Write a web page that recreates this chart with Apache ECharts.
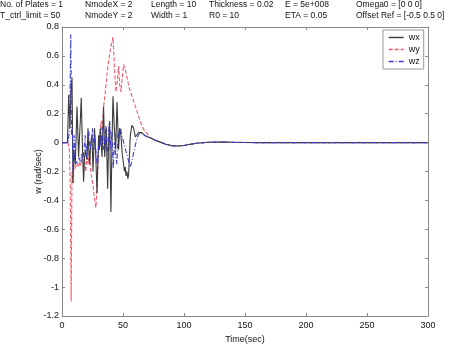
<!DOCTYPE html>
<html>
<head>
<meta charset="utf-8">
<script src="https://cdn.jsdelivr.net/npm/echarts@6/dist/echarts.min.js"></script>
<style>html,body{margin:0;padding:0;background:#fff}#c{width:474px;height:356px}</style>
</head>
<body>
<div id="c"></div>
<script>
// ---- data ----
var xTicks = [0, 50, 100, 150, 200, 250, 300];
var yTicks = [-1.2, -1, -0.8, -0.6, -0.4, -0.2, 0, 0.2, 0.4, 0.6, 0.8];
var seriesNames = ['wx', 'wy', 'wz'];

var tailT = [72, 76, 80, 85, 90, 95, 100, 105, 110, 120, 130, 140, 160, 200, 250, 300];
var tailV = [0.035, 0.018, 0.005, -0.012, -0.021, -0.024, -0.02, -0.012, -0.005, 0.002, 0.004, 0.002, 0, 0, 0, 0];

var wxT = [0, 4.5, 5.5, 6.5, 7.3, 8.2, 9.0, 9.8, 10.9, 11.6, 12.3, 13.6, 14.4, 15.0, 15.8, 16.8, 17.7, 18.5, 19.1, 20.5,
           21.3, 21.8, 22.7, 23.6, 24.6, 25.4, 26.7, 27.7, 28.7, 30.0, 30.7, 31.4, 32.8, 34.1, 35.0, 36.3, 37.4, 38.2, 39.0, 40.1,
           41.0, 41.8, 42.9, 44.0, 45.1, 46.4, 47.3, 48.3, 49.4, 50.5, 51.2, 51.9, 52.5, 53.2, 54.0, 54.6, 56.0, 57.3, 58.7, 60.1,
           61.5, 62.8, 64.0, 65.5, 67.5, 69.7];
var wxV = [0, 0, 0.33, 0.1, 0.35, 0.45, -0.28, -0.05, -0.15, 0.05, 0.25, -0.1, 0.05, 0.15, 0.31, -0.05, -0.27, -0.1, -0.05, -0.12,
           0.1, -0.03, -0.15, 0.0, 0.05, -0.2, 0.1, -0.1, -0.35, 0.05, -0.05, 0.1, -0.1, 0.25, -0.1, 0.1, -0.32, 0.0, 0.15, -0.48,
           0.0, 0.32, 0.1, -0.05, 0.28, -0.05, 0.1, 0.05, -0.08, -0.15, -0.2, -0.17, -0.23, -0.2, -0.25, -0.22, 0.05, 0.12, 0.1, 0.04,
           0.05, 0.07, 0.08, 0.07, 0.05, 0.04];

var wyT = [0, 5.0, 6.0, 6.8, 7.5, 8.2, 9.0, 9.8, 10.5, 11.5, 12.5, 13.5, 14.5, 15.5, 16.5, 17.5, 18.5, 19.5, 20.5, 21.5,
           22.5, 23.5, 24.5, 25.5, 26.5, 27.8, 29.0, 30.0, 31.0, 32.0, 33.0, 34.1, 35.5, 37.0, 38.5, 40.0, 41.8, 43.0, 44.2, 45.3,
           46.4, 47.3, 48.3, 49.4, 50.5, 52.0, 53.3, 55.0, 57.0, 59.0, 61.4, 64.0, 67.0, 70.0];
var wyV = [0, 0, -0.05, -0.3, -1.1, -0.2, -0.28, -0.15, -0.18, -0.16, -0.14, -0.17, -0.13, -0.16, -0.1, -0.15, -0.12, -0.2, -0.1, -0.15,
           -0.05, -0.2, -0.25, -0.3, -0.38, -0.45, -0.25, -0.05, 0.05, 0.15, 0.08, 0.25, 0.35, 0.48, 0.58, 0.66, 0.73, 0.52, 0.35, 0.42,
           0.53, 0.4, 0.35, 0.45, 0.54, 0.5, 0.45, 0.38, 0.33, 0.28, 0.22, 0.15, 0.09, 0.06];

var wzT = [0, 5.0, 6.2, 7.2, 7.8, 8.5, 9.2, 10.0, 11.0, 12.0, 13.0, 14.0, 15.0, 16.0, 17.0, 18.0, 19.0, 20.0, 21.0, 22.0,
           23.0, 24.0, 25.0, 26.0, 27.0, 28.0, 29.0, 30.0, 31.0, 32.0, 33.0, 34.0, 35.0, 36.0, 37.0, 38.0, 39.0, 40.0, 41.0, 42.0,
           43.0, 44.0, 45.0, 46.0, 47.0, 48.0, 49.0, 50.0, 53.0, 56.0, 58.0, 60.0, 62.0, 64.0, 66.0, 68.0, 70.0];
var wzV = [0, 0, 0.1, 0.75, 0.05, 0.1, -0.2, 0.05, -0.15, -0.14, -0.12, -0.1, -0.13, -0.08, -0.12, -0.05, 0.05, -0.1, 0.02, 0.08,
           -0.05, 0.0, 0.1, -0.05, 0.05, -0.1, -0.15, -0.05, 0.05, -0.02, 0.1, -0.05, 0.0, 0.12, -0.08, 0.05, 0.15, -0.05, 0.08, -0.18,
           0.0, -0.08, -0.15, 0.08, 0.05, 0.1, 0.05, 0.02, -0.08, -0.17, -0.1, -0.02, 0.04, 0.07, 0.06, 0.05, 0.04];

var headerLine1 = ['No. of Plates = 1', 'NmodeX = 2', 'Length = 10', 'Thickness = 0.02', 'E = 5e+008', 'Omega0 = [0 0 0]'];
var headerLine2 = ['T_ctrl_limit = 50', 'NmodeY = 2', 'Width = 1', 'R0 = 10', 'ETA = 0.05', 'Offset Ref = [-0.5 0.5 0]'];

// ---- styles ----
var lineColors = ['#3a3a3a', '#f05a6a', '#3c3cd0'];
var lineTypes = ['solid', [4, 2], [5, 2, 1, 2]];

// ---- build ----
function pairs(t, v) {
  var out = [];
  for (var i = 0; i < t.length; i++) out.push([t[i], v[i]]);
  for (var j = 0; j < tailT.length; j++) out.push([tailT[j], tailV[j]]);
  return out;
}
var FONT = 'Liberation Sans, Arial, sans-serif';
var headerX = [0, 85, 151, 209, 285, 356];
var titles = [];
for (var k = 0; k < headerLine1.length; k++) {
  titles.push({ text: headerLine1[k], left: headerX[k], top: 0, padding: 0, textStyle: { fontSize: 8.5, fontWeight: 'normal', color: '#111', fontFamily: FONT } });
  titles.push({ text: headerLine2[k], left: headerX[k], top: 11, padding: 0, textStyle: { fontSize: 8.5, fontWeight: 'normal', color: '#111', fontFamily: FONT } });
}
var legendData = seriesNames.map(function (n, i) {
  return { name: n, lineStyle: { color: lineColors[i], type: lineTypes[i], width: 1.4, opacity: 1 }, itemStyle: { opacity: 0, borderWidth: 0 } };
});
var allData = [pairs(wxT, wxV), pairs(wyT, wyV), pairs(wzT, wzV)];
var zs = [3, 2, 4];
var series = seriesNames.map(function (n, i) {
  return { name: n, type: 'line', data: allData[i], symbol: 'none', z: zs[i],
    lineStyle: { color: lineColors[i], width: 1.1, type: lineTypes[i] }, itemStyle: { color: lineColors[i] } };
});

var axisCol = '#8a8a8a';
var chart = echarts.init(document.getElementById('c'), null, { renderer: 'canvas' });
chart.setOption({
  animation: false,
  backgroundColor: '#fff',
  title: titles,
  grid: { left: 62, right: 46, top: 27, bottom: 40, containLabel: false },
  legend: {
    data: legendData, orient: 'vertical', left: 383, top: 30,
    itemWidth: 15, itemHeight: 7, itemGap: 3, padding: [3, 4, 3, 5],
    borderColor: '#999', borderWidth: 1, backgroundColor: '#fff',
    textStyle: { fontSize: 9, color: '#111', fontFamily: FONT }
  },
  xAxis: [{
    type: 'value', min: xTicks[0], max: xTicks[xTicks.length - 1], interval: 50,
    name: 'Time(sec)', nameLocation: 'middle', nameGap: 17,
    nameTextStyle: { fontSize: 9, color: '#111', fontFamily: FONT },
    axisLine: { onZero: false, lineStyle: { color: axisCol } },
    axisTick: { inside: true, length: 3, lineStyle: { color: axisCol } },
    axisLabel: { fontSize: 9, color: '#111', margin: 5, fontFamily: FONT },
    splitLine: { show: false }
  }, {
    type: 'value', position: 'top', min: xTicks[0], max: xTicks[xTicks.length - 1], interval: 50,
    axisLine: { onZero: false, lineStyle: { color: axisCol } },
    axisTick: { inside: true, length: 3, lineStyle: { color: axisCol } },
    axisLabel: { show: false }, splitLine: { show: false }
  }],
  yAxis: [{
    type: 'value', min: yTicks[0], max: yTicks[yTicks.length - 1], interval: 0.2,
    name: 'w (rad/sec)', nameLocation: 'middle', nameGap: 19, nameMoveOverlap: false,
    nameTextStyle: { fontSize: 9, color: '#111', fontFamily: FONT },
    axisLine: { show: true, onZero: false, lineStyle: { color: axisCol } },
    axisTick: { show: true, inside: true, length: 3, lineStyle: { color: axisCol } },
    axisLabel: { fontSize: 9, color: '#111', margin: 3, fontFamily: FONT,
      formatter: function (v) { return String(Number(v.toFixed(1))); } },
    splitLine: { show: false }
  }, {
    type: 'value', position: 'right', min: yTicks[0], max: yTicks[yTicks.length - 1], interval: 0.2,
    axisLine: { show: true, onZero: false, lineStyle: { color: axisCol } },
    axisTick: { show: true, inside: true, length: 3, lineStyle: { color: axisCol } },
    axisLabel: { show: false }, splitLine: { show: false }
  }],
  series: series
});
</script>
</body>
</html>
